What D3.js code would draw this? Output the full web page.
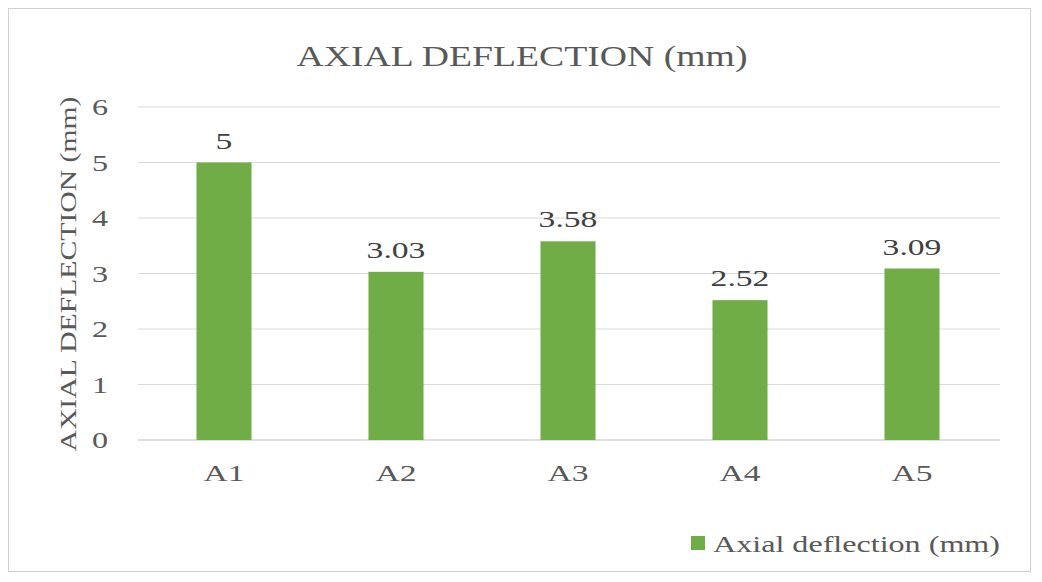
<!DOCTYPE html>
<html><head><meta charset="utf-8">
<script src="https://cdn.jsdelivr.net/npm/d3@7"></script>
<style>body{margin:0;background:#fff}</style></head>
<body><svg id="c" width="1042" height="582"></svg>
<script>
const categories=["A1","A2","A3","A4","A5"];
const values=[5,3.03,3.58,2.52,3.09];
const labels=["5","3.03","3.58","2.52","3.09"];
const yTicks=[0,1,2,3,4,5,6];
const svg=d3.select("#c");
const font="Liberation Serif, Times New Roman, serif";
const SX=1.4;
function txt(px,py,s,size,anchor,fill){
 return svg.append("text").attr("transform",`translate(${px},${py}) scale(${SX},1)`).attr("text-anchor",anchor)
  .attr("font-family",font).attr("font-size",size).attr("fill",fill).text(s);
}
svg.append("rect").attr("x",8.5).attr("y",8.5).attr("width",1022).attr("height",563).attr("fill","#fff").attr("stroke","#d0d0d0");
const x=d3.scaleBand().domain(categories).range([138,998]).paddingInner(0.68).paddingOuter(0.34);
const y=d3.scaleLinear().domain([0,6]).range([440,107]);
yTicks.forEach(t=>{
 svg.append("line").attr("x1",138).attr("x2",1000).attr("y1",y(t)).attr("y2",y(t)).attr("stroke",t===0?"#bfbfbf":"#d9d9d9").attr("stroke-width",1);
 txt(108,y(t)+8,t,23,"end","#595959");
});
categories.forEach((c,i)=>{
 svg.append("rect").attr("x",x(c)).attr("width",x.bandwidth()).attr("y",y(values[i])).attr("height",y(0)-y(values[i])).attr("fill","#70ad47");
 txt(x(c)+x.bandwidth()/2,y(values[i])-14,labels[i],24,"middle","#404040");
 txt(x(c)+x.bandwidth()/2,481,c,24,"middle","#595959");
});
svg.append("text").attr("x",522).attr("y",66).attr("text-anchor","middle").attr("font-family",font).attr("font-size",29).attr("fill","#595959")
 .attr("textLength",451).attr("lengthAdjust","spacingAndGlyphs").text("AXIAL DEFLECTION (mm)");
svg.append("text").attr("transform","translate(76,274) rotate(-90)").attr("text-anchor","middle").attr("font-family",font).attr("font-size",24).attr("fill","#595959")
 .attr("textLength",355).attr("lengthAdjust","spacingAndGlyphs").text("AXIAL DEFLECTION  (mm)");
svg.append("rect").attr("x",691).attr("y",536).attr("width",14).attr("height",14).attr("fill","#70ad47");
svg.append("text").attr("x",713).attr("y",552).attr("font-family",font).attr("font-size",24).attr("fill","#595959")
 .attr("textLength",287).attr("lengthAdjust","spacingAndGlyphs").text("Axial deflection (mm)");
</script></body></html>
